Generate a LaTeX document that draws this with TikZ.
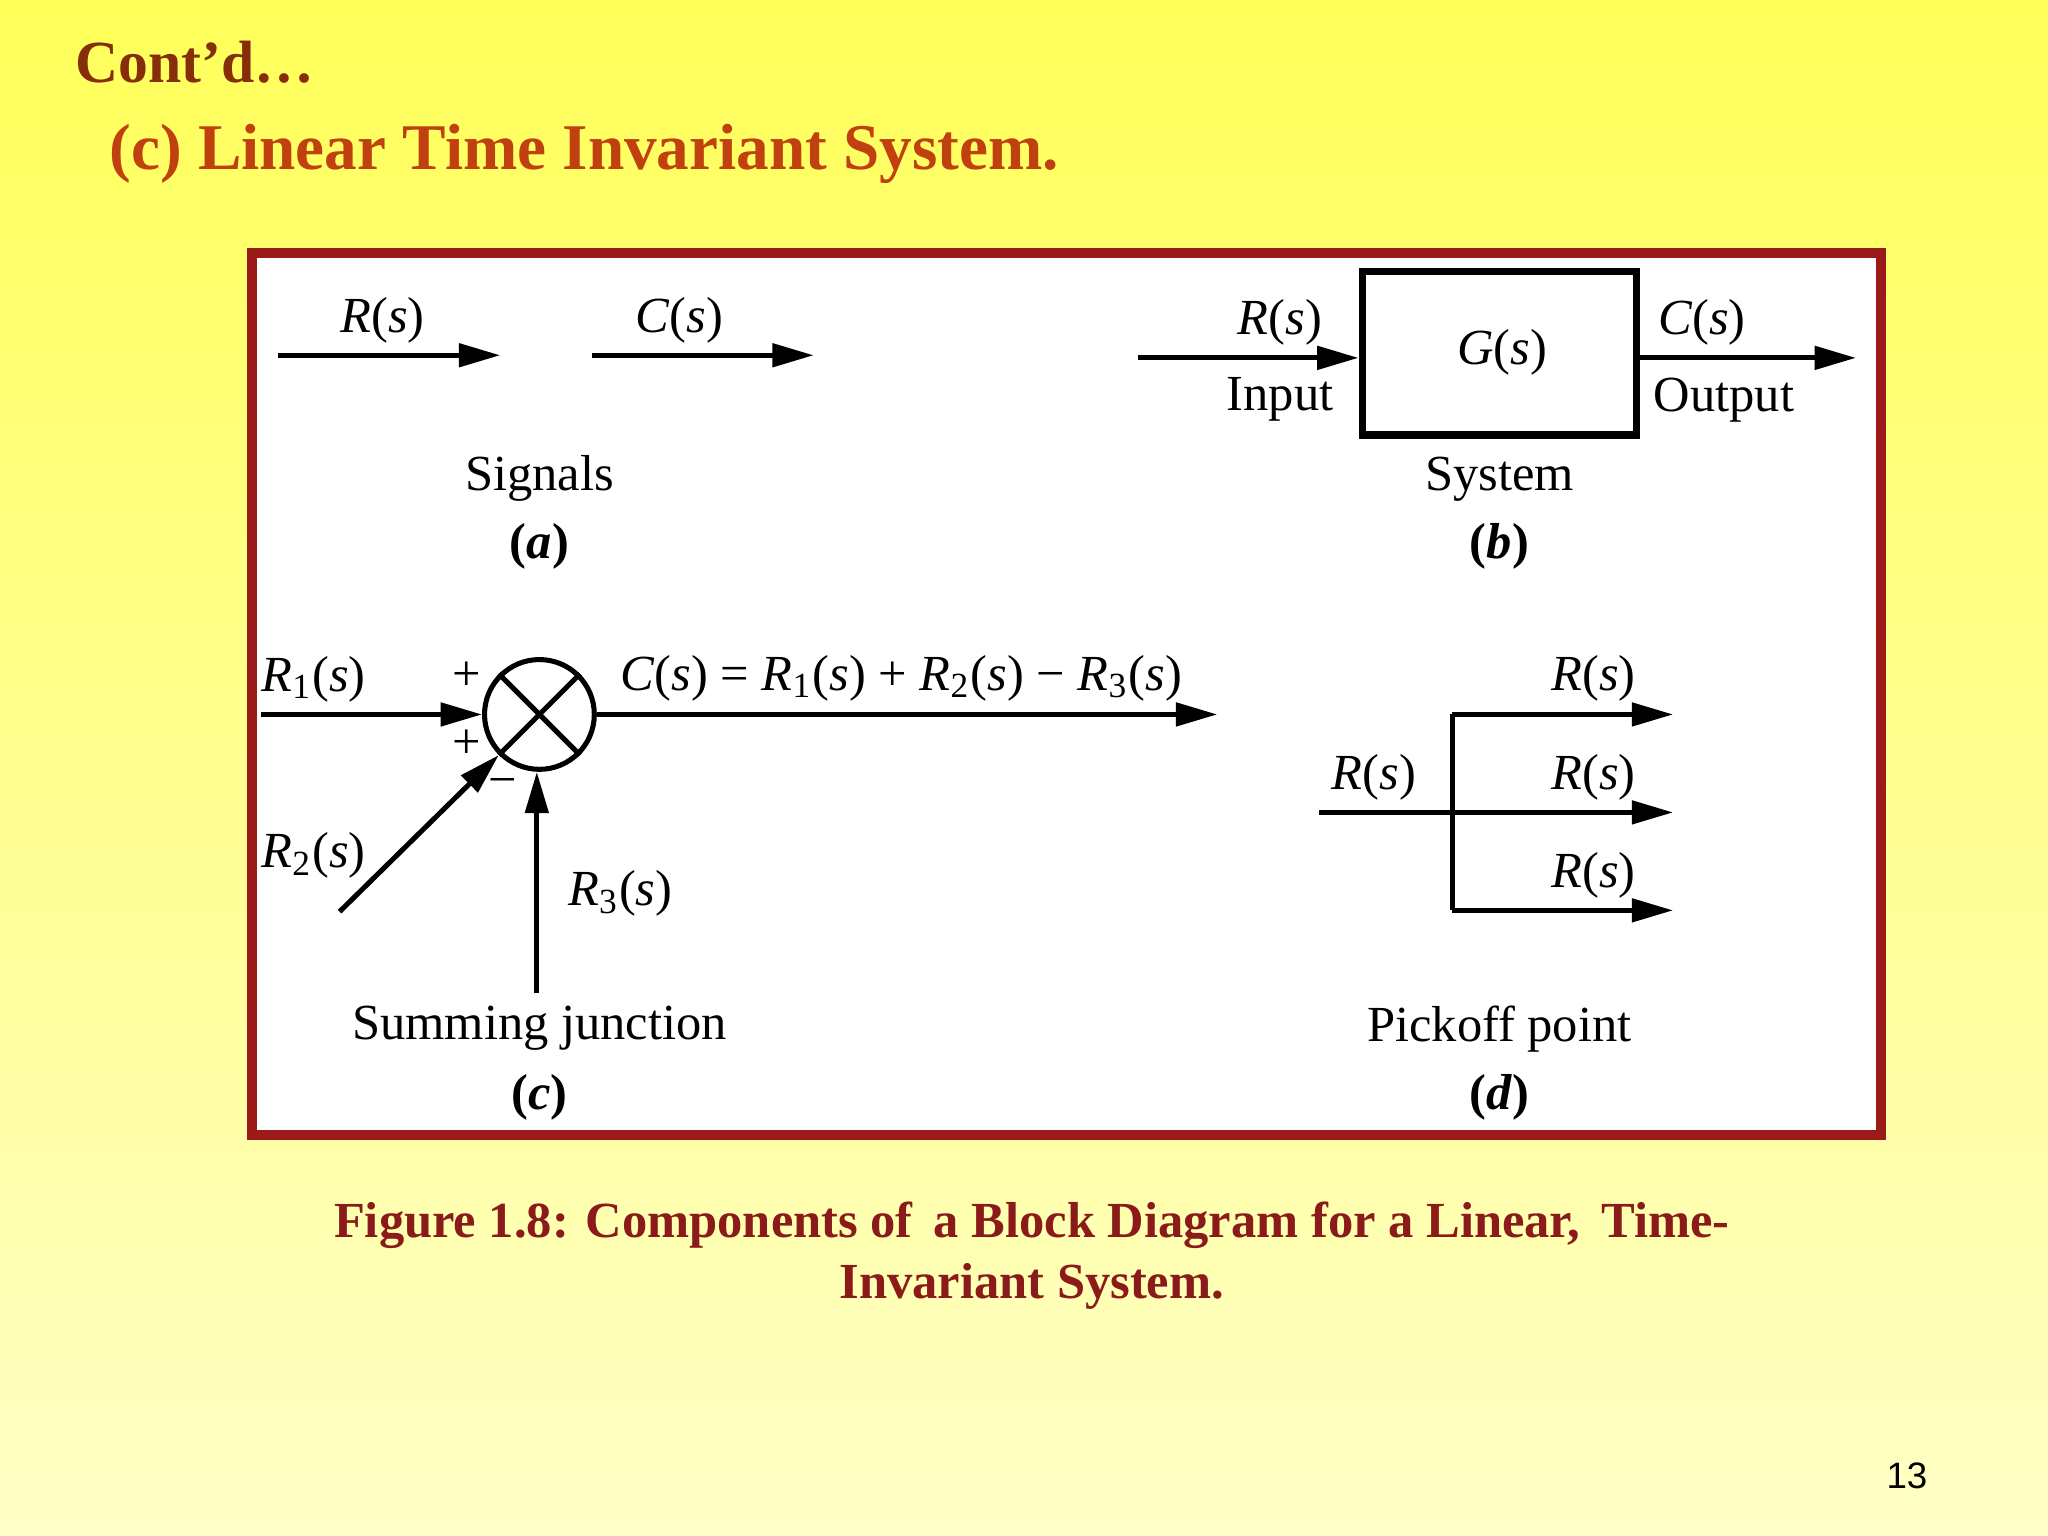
\documentclass[tikz,border=0pt]{standalone}
\usepackage{fontspec}
\setmainfont{Liberation Serif}
\setsansfont{Liberation Sans}
\usetikzlibrary{arrows.meta}
\definecolor{ttl}{HTML}{C0400F}
\definecolor{cap}{HTML}{8B1A1A}
\definecolor{frm}{HTML}{9B1B1B}
\tikzset{
  ar/.style={line width=1.1pt,-{Stealth[length=9pt,width=5pt,inset=0pt]}},
  ln/.style={line width=1.1pt},
  lb/.style={font=\fontsize{11}{13}\selectfont,inner sep=0pt},
  ti/.style={font=\fontsize{11}{13}\selectfont\itshape,inner sep=0pt}
}
\begin{document}
\begin{tikzpicture}[x=0.01cm,y=-0.01cm]
\useasboundingbox (0,0) rectangle (1568,1176);
\shade[top color=yellow!65!white, bottom color=yellow!22!white] (0,0) rectangle (1568,1176);
\node[anchor=west,inner sep=0pt,text=ttl!70!black,font=\fontsize{13}{16}\selectfont\bfseries] (t1) at (57,48) {Cont’d…};
\node[anchor=west,inner sep=0pt,text=ttl,font=\fontsize{14.2}{16}\selectfont\bfseries] (t2) at (83,118) {(c) Linear Time Invariant System.};
\draw[frm,line width=2.2pt,fill=white] (193,194) rectangle (1440,869);
% (a)
\coordinate (a1) at (213,272); \coordinate (a2) at (383,272);
\coordinate (a3) at (453,272); \coordinate (a4) at (623,272);
\draw[ar] (a1) -- (a2); \draw[ar] (a3) -- (a4);
\node[ti] (ra) at (293,245) {R\textup{(}s\textup{)}};
\node[ti] (ca) at (520,245) {C\textup{(}s\textup{)}};
\node[lb] (sig) at (413,366) {Signals};
\node[lb] (la) at (413,418) {\textbf{(\textit{a})}};
% (b)
\node[draw,line width=1.6pt,minimum width=2.1cm,minimum height=1.25cm,inner sep=0pt] (g) at (1148,270.5) {};
\node[ti] (gt) at (1150,270) {G\textup{(}s\textup{)}};
\coordinate (bin) at (871,274); \coordinate (bout) at (1421,274);
\draw[ar] (bin) -- (g.west |- bin);
\draw[ar] (g.east |- bout) -- (bout);
\node[ti] (rb) at (980,247) {R\textup{(}s\textup{)}};
\node[lb] (inp) at (980,306) {Input};
\node[ti] (cb) at (1303,247) {C\textup{(}s\textup{)}};
\node[lb] (outp) at (1320,306) {Output};
\node[lb] (sys) at (1148,367) {System};
\node[lb] (lbb) at (1148,418) {\textbf{(\textit{b})}};
% (c)
\node[draw,circle,line width=1.1pt,minimum size=0.84cm,inner sep=0pt] (s) at (413,547) {};
\draw[ln] (s.45) -- (s.225) (s.135) -- (s.-45);
\coordinate (r1) at (200,547); \coordinate (r2) at (260,698); \coordinate (r3) at (411,760); \coordinate (co) at (932,547);
\draw[ar] (r1) -- (s.west);
\draw[ar] (r2) -- (s.225);
\draw[ar] (r3) -- (r3 |- s.south);
\draw[ar] (s.east) -- (co);
\node[ti] (r1l) at (240,520) {R\textup{\textsubscript{1}(}s\textup{)}};
\node[ti] (r2l) at (240,655) {R\textup{\textsubscript{2}(}s\textup{)}};
\node[ti] (r3l) at (475,684) {R\textup{\textsubscript{3}(}s\textup{)}};
\node[lb] (p1) at (357,518) {+};
\node[lb] (p2) at (357,570) {+};
\node[lb] (m1) at (385,603) {−};
\node[ti] (eq) at (690,519) {C\textup{(}s\textup{) = }R\textup{\textsubscript{1}(}s\textup{) + }R\textup{\textsubscript{2}(}s\textup{) − }R\textup{\textsubscript{3}(}s\textup{)}};
\node[lb] (sj) at (413,787) {Summing junction};
\node[lb] (lc) at (413,840) {\textbf{(\textit{c})}};
% (d)
\coordinate (din) at (1010,622); \coordinate (dtop) at (1112,547); \coordinate (dbot) at (1112,697);
\coordinate (o1) at (1281,547); \coordinate (o2) at (1281,622); \coordinate (o3) at (1281,697);
\draw[ar] (din) -- (o2);
\draw[ln] (dtop) -- (dbot);
\draw[ar] (dtop) -- (o1);
\draw[ar] (dbot) -- (o3);
\node[ti] (d1) at (1220,519) {R\textup{(}s\textup{)}};
\node[ti] (d2) at (1220,595) {R\textup{(}s\textup{)}};
\node[ti] (d3) at (1220,670) {R\textup{(}s\textup{)}};
\node[ti] (d0) at (1052,595) {R\textup{(}s\textup{)}};
\node[lb] (pp) at (1148,788) {Pickoff point};
\node[lb] (ld) at (1148,840) {\textbf{(\textit{d})}};
% caption
\node[text=cap,font=\fontsize{11}{13}\selectfont\bfseries] (c1) at (790,938) {Figure 1.8: Components of\, a Block Diagram for a Linear,\, Time-};
\node[text=cap,font=\fontsize{11}{13}\selectfont\bfseries] (c2) at (790,985) {Invariant System.};
\node[font=\sffamily\fontsize{8}{10}\selectfont] (pg) at (1460,1130) {13};
\end{tikzpicture}
\end{document}
